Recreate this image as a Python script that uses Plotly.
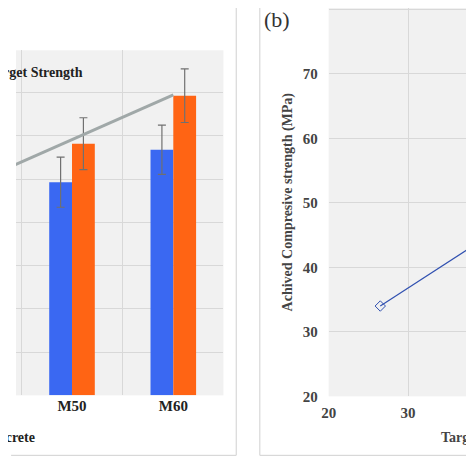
import plotly.graph_objects as go

grades = ["M30", "M40", "M50", "M60"]
grade_pos = [0, 1, 2, 3]
achieved_a = [30.0, 40.0, 49.3, 56.8]
achieved_a_err = [5.8, 5.8, 5.8, 5.7]
achieved_b = [33.0, 45.0, 58.2, 69.3]
achieved_b_err = [6.0, 6.0, 6.0, 6.2]
target = [38.4, 48.8, 59.1, 69.5]

target_x = [26.5, 38.8]
achieved_y = [34.0, 43.8]

W = 474
def px(v): return v / W
def py(v): return 1 - v / W

fig = go.Figure()
fig.add_trace(go.Bar(x=grade_pos, y=achieved_a, marker_color="#3a68f2", marker_line_width=0,
                     error_y=dict(type="data", array=achieved_a_err, color="#707070", thickness=1.2, width=4),
                     xaxis="x", yaxis="y", showlegend=False))
fig.add_trace(go.Bar(x=grade_pos, y=achieved_b, marker_color="#ff6414", marker_line_width=0,
                     error_y=dict(type="data", array=achieved_b_err, color="#707070", thickness=1.2, width=4),
                     xaxis="x", yaxis="y", showlegend=False))
fig.add_trace(go.Scatter(x=grade_pos, y=target, mode="lines", line=dict(color="#a0a8a8", width=3),
                         xaxis="x", yaxis="y", showlegend=False))
fig.add_trace(go.Scatter(x=target_x, y=achieved_y, mode="lines+markers",
                         line=dict(color="#3050b0", width=1.2),
                         marker=dict(symbol="diamond-open", size=8, color="#3050b0"),
                         xaxis="x2", yaxis="y2", showlegend=False))

serif = "Liberation Serif"
fig.update_layout(
    width=W, height=W, margin=dict(l=0, r=0, t=0, b=0),
    paper_bgcolor="white", plot_bgcolor="#f1f1f1",
    barmode="group", bargap=0.55, bargroupgap=0,
    font=dict(family=serif, color="#333", size=13),
    xaxis=dict(domain=[0, px(211)], range=[1.447, 3.495], tickvals=grade_pos, ticktext=grades,
               showgrid=False, minor=dict(tickvals=[0.5, 1.5, 2.5, 3.5], showgrid=True, gridcolor="#d8d8d8"),
               tickfont=dict(size=15, color="#222", weight="bold"), ticks="", showline=False,
               anchor="y", zeroline=False),
    yaxis=dict(domain=[py(394), py(43)], range=[0, 79.8], dtick=10, showgrid=True,
               gridcolor="#d8d8d8", showticklabels=False, zeroline=False, anchor="x"),
    xaxis2=dict(domain=[px(318), 1.0], range=[20, 39.3], dtick=10, showgrid=True,
                gridcolor="#d8d8d8", tickfont=dict(size=15, color="#444", weight="bold"),
                anchor="y2", zeroline=False, ticklabelstandoff=6),
    yaxis2=dict(domain=[py(395), 1.0], range=[20, 80.2], dtick=10, showgrid=True,
                gridcolor="#d8d8d8", tickfont=dict(size=15, color="#444", weight="bold"), anchor="x2",
                zeroline=False, ticklabelstandoff=10,
                title=dict(text="<b>Achived Compresive strength (MPa)</b>", font=dict(size=14, color="#444"), standoff=6)),
)
fig.add_annotation(text="<b>Target Strength</b>", x=px(70), y=py(66), xref="paper", yref="paper",
                   xanchor="right", yanchor="middle", showarrow=False, font=dict(size=14, color="#222"))
fig.add_annotation(text="<b>Grade of Concrete</b>", x=px(21), y=py(437), xref="paper", yref="paper",
                   xanchor="right", yanchor="middle", showarrow=False, font=dict(size=14, color="#222"))
fig.add_annotation(text="<b>Target Compressive strength (MPa)</b>", x=px(430), y=py(437), xref="paper", yref="paper",
                   xanchor="left", yanchor="middle", showarrow=False, font=dict(size=14, color="#444"))
fig.add_annotation(text="(b)", x=px(250), y=py(12), xref="paper", yref="paper",
                   xanchor="left", yanchor="middle", showarrow=False, font=dict(size=22, color="#333"))
fig.add_annotation(text="<b>y = 0.79x + 13</b>", x=px(466), y=py(68), xref="paper", yref="paper",
                   xanchor="left", yanchor="middle", showarrow=False, font=dict(size=14, color="#333"))
for x0, x1, y0, y1 in [(224, 224, 455, -5), (-5, 224, 455, 455), (248, 248, 455, -5), (248, 480, 455, 455)]:
    fig.add_shape(type="line", xref="paper", yref="paper", x0=px(x0), x1=px(x1), y0=py(y0), y1=py(y1),
                  line=dict(color="#d0d0d0", width=1))
fig.write_html("out.html")
